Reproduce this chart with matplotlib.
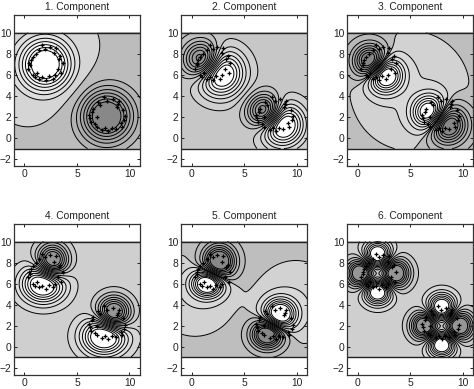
import numpy as np
import matplotlib
matplotlib.use("Agg")
import matplotlib.pyplot as plt

plt.rcParams["font.family"] = ["Liberation Sans", "DejaVu Sans"]

# points (same two rings in every panel)
ring1_x = [1.7, 2.4, 2.85, 3.3, 3.65, 3.15, 2.7, 2.05, 1.4, 0.8, 0.3, 0.45, 0.8, 1.4, 1.0, 3.0, 2.3, 1.1, 0.6, 3.5, 2.0, 2.9, 0.5, 1.7, 3.4, 1.2]
ring1_y = [8.85, 8.7, 8.05, 7.55, 7.1, 6.6, 5.65, 5.5, 5.65, 6.0, 6.6, 7.1, 7.7, 8.35, 5.8, 8.6, 5.9, 8.0, 7.4, 6.2, 8.5, 6.0, 6.9, 5.8, 7.8, 6.2]
ring2_x = [7.6, 8.4, 8.9, 9.4, 9.6, 9.2, 8.7, 8.0, 7.4, 6.9, 6.3, 6.1, 6.5, 7.0, 6.7, 9.0, 8.3, 7.2, 6.4, 9.5, 7.9, 9.3, 6.2, 7.7, 8.8, 6.9]
ring2_y = [3.9, 3.7, 3.2, 2.7, 2.1, 1.4, 0.9, 0.7, 0.8, 1.1, 1.5, 2.2, 2.8, 3.4, 1.3, 3.5, 1.0, 3.1, 2.5, 1.7, 3.5, 1.1, 1.9, 1.0, 3.0, 2.0]

# lobes of each component: x, y, height, sx, sy
lobes1 = [(2.0, 7.0, 3.6, 1.6, 1.6), (7.8, 2.1, -3.6, 1.6, 1.6),
          (1.8, 6.8, 0.6, 3.0, 3.0), (8.0, 2.0, -0.5, 3.0, 3.0)]
lobes2 = [(1.05, 7.4, -4.5, 1.2, 1.2), (2.7, 6.2, 4.5, 1.5, 1.5),
          (7.0, 2.5, -4.5, 1.1, 1.1), (8.6, 1.3, 4.5, 1.4, 1.4)]
lobes3 = [(1.2, 7.3, -4.5, 1.05, 1.05), (2.6, 6.0, 4.5, 1.1, 1.1),
          (6.9, 2.4, 4.5, 1.1, 1.1), (8.5, 1.3, -4.5, 1.2, 1.2),
          (5.0, 4.5, 0.35, 4.0, 4.0)]
lobes4 = [(2.65, 8.1, -4.5, 1.0, 1.1), (1.8, 6.0, 4.5, 1.4, 1.2),
          (8.5, 3.2, -4.5, 1.05, 1.05), (7.6, 1.0, 4.5, 1.45, 1.2)]
lobes5 = [(2.6, 8.1, -4.5, 1.0, 1.05), (1.5, 6.0, 4.5, 1.0, 0.85),
          (8.4, 3.1, 4.5, 1.0, 0.95), (7.2, 1.2, -4.5, 1.0, 0.9),
          (0.3, 5.0, 0.3, 2.3, 2.3), (9.9, 4.2, 0.3, 2.3, 2.3)]
lobes6 = [(1.9, 8.7, 4.5, 0.9, 0.9), (1.9, 5.3, 4.5, 0.9, 0.85), (0.3, 7.0, -4.5, 0.9, 0.9), (3.5, 7.0, -4.5, 0.95, 0.95),
          (8.0, 3.7, 4.5, 0.9, 0.9), (8.0, 0.3, 4.5, 0.9, 0.85), (6.4, 2.0, -4.5, 0.9, 0.9), (9.6, 2.0, -4.5, 0.95, 0.95)]
all_lobes = [lobes1, lobes2, lobes3, lobes4, lobes5, lobes6]
offsets = [-0.07, 0.0, -0.127, 0.0, -0.066, 0.0]
has_zero_line = [True, False, True, False, True, False]
base_gray = [0.785, 0.78, 0.785, 0.81, 0.785, 0.81]

rings_wide = [0.6, 1.0, 1.4, 1.8, 2.2, 2.6, 3.0]
rings = [0.25, 0.7, 1.15, 1.6, 2.05, 2.5, 2.95]
xticks = [0, 5, 10]
yticks = [-2, 0, 2, 4, 6, 8, 10]

xx, yy = np.meshgrid(np.linspace(-1, 11, 360), np.linspace(-1, 10, 330))

W, H = 474, 389
fig = plt.figure(figsize=(W / 100, H / 100), dpi=100)
lefts = [14, 181.3, 347.3]
tops = [15, 223.7]

for i in range(6):
    left = lefts[i % 3]
    top = tops[i // 3]
    ax = fig.add_axes([left / W, 1 - (top + 151.5) / H, 126 / W, 151.5 / H])

    z = np.full(xx.shape, offsets[i])
    for x0, y0, amp, sx, sy in all_lobes[i]:
        z += amp * np.exp(-((xx - x0) ** 2 / (2 * sx**2) + (yy - y0) ** 2 / (2 * sy**2)))

    use = rings_wide if i == 0 else rings
    mid = [0.0] if has_zero_line[i] else []
    lines = [-r for r in use[::-1]] + mid + use
    edges = [-9] + lines + [9]

    band_colors = []
    for a, b in zip(edges[:-1], edges[1:]):
        m = np.clip((a + b) / 2, -3.4, 3.4)
        g = base_gray[i] + 0.065 * m
        if has_zero_line[i]:
            g += 0.03 * np.sign(m)
        band_colors.append(str(round(float(np.clip(g, 0, 1)), 3)))

    ax.contourf(xx, yy, z, levels=edges, colors=band_colors)
    ax.contour(xx, yy, z, levels=lines, colors="k", linewidths=0.7, linestyles="solid")
    ax.plot(ring1_x + ring2_x, ring1_y + ring2_y, "k+", ms=3.2, mew=0.9)
    ax.axhline(10, color="#222222", lw=1.0)
    ax.axhline(-1, color="#222222", lw=1.0)

    ax.set_xlim(-1, 11)
    ax.set_ylim(-2.7, 11.7)
    ax.set_xticks(xticks)
    ax.set_yticks(yticks)
    ax.tick_params(direction="in", length=2, width=0.7, top=True, right=True, labelsize=7.4, pad=2, colors="#222222")
    for s in ax.spines.values():
        s.set_linewidth(0.9)
        s.set_color("#333333")
    ax.set_title(f"{i + 1}. Component", fontsize=7.4, pad=3.5, color="#222222")

fig.savefig("out.png", dpi=100)
